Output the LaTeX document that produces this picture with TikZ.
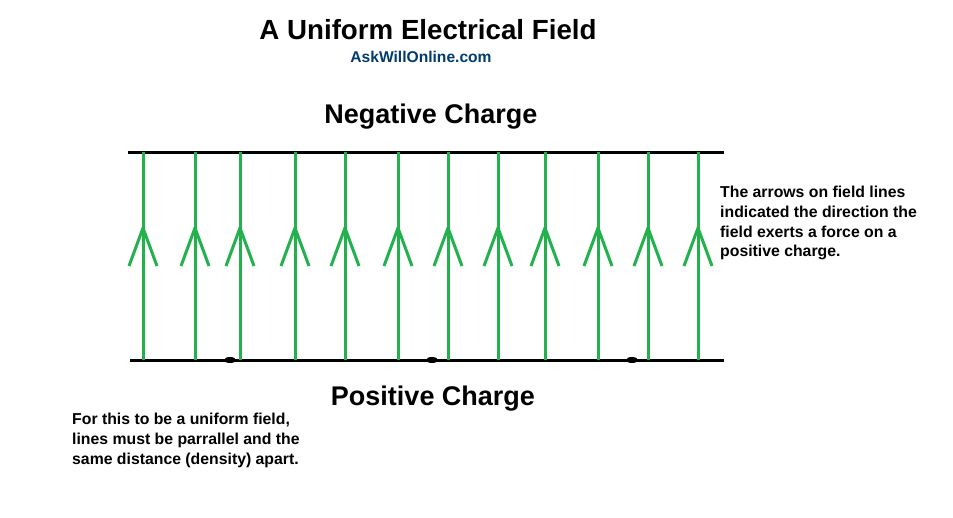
\documentclass[tikz,border=0pt]{standalone}
\usepackage{fontspec}
\setmainfont{Liberation Sans}
\definecolor{fgreen}{RGB}{34,177,76}
\definecolor{ablue}{RGB}{0,60,110}
\begin{document}
\begin{tikzpicture}[x=1pt,y=-1pt,
  plate/.style={line width=3pt,black},
  fline/.style={line width=3pt,fgreen},
  lbl/.style={font=\bfseries\fontsize{15.8}{19.7}\selectfont,align=left,anchor=north west,inner sep=0}]
\useasboundingbox[fill=white] (0,0) rectangle (953,517);
\node[font=\bfseries\fontsize{27.7}{32}\selectfont] (title) at (428,30) {A Uniform Electrical Field};
\node[font=\bfseries\fontsize{15.6}{19}\selectfont,text=ablue] (site) at (421,57) {AskWillOnline.com};
\node[font=\bfseries\fontsize{27}{32}\selectfont] (neg) at (431,117) {Negative Charge};
\node[font=\bfseries\fontsize{27}{32}\selectfont] (pos) at (433,399) {Positive Charge};
\coordinate (tl) at (128,152); \coordinate (tr) at (724,152);
\coordinate (bl) at (130,360); \coordinate (br) at (724,360);
\draw[plate] (tl) -- (tr);
\draw[plate] (bl) -- (br);
\foreach \x in {143,195,240,295,345,398,448,498,545,598,648,698}{
  \coordinate (b\x) at (\x,360); \coordinate (t\x) at (\x,152);
  \draw[fline] (b\x) -- (t\x);
  \draw[fline,line join=miter] (\x-14,266) -- (\x,228) -- (\x+14,266);
}
\foreach \x in {230,432,632}{\fill (\x,360) ellipse (6 and 3);}
\node[lbl] (note1) at (720,186) {The arrows on field lines\\indicated the direction the\\field exerts a force on a\\positive charge.};
\node[lbl] (note2) at (72,413) {For this to be a uniform field,\\lines must be parrallel and the\\same distance (density) apart.};
\end{tikzpicture}
\end{document}
